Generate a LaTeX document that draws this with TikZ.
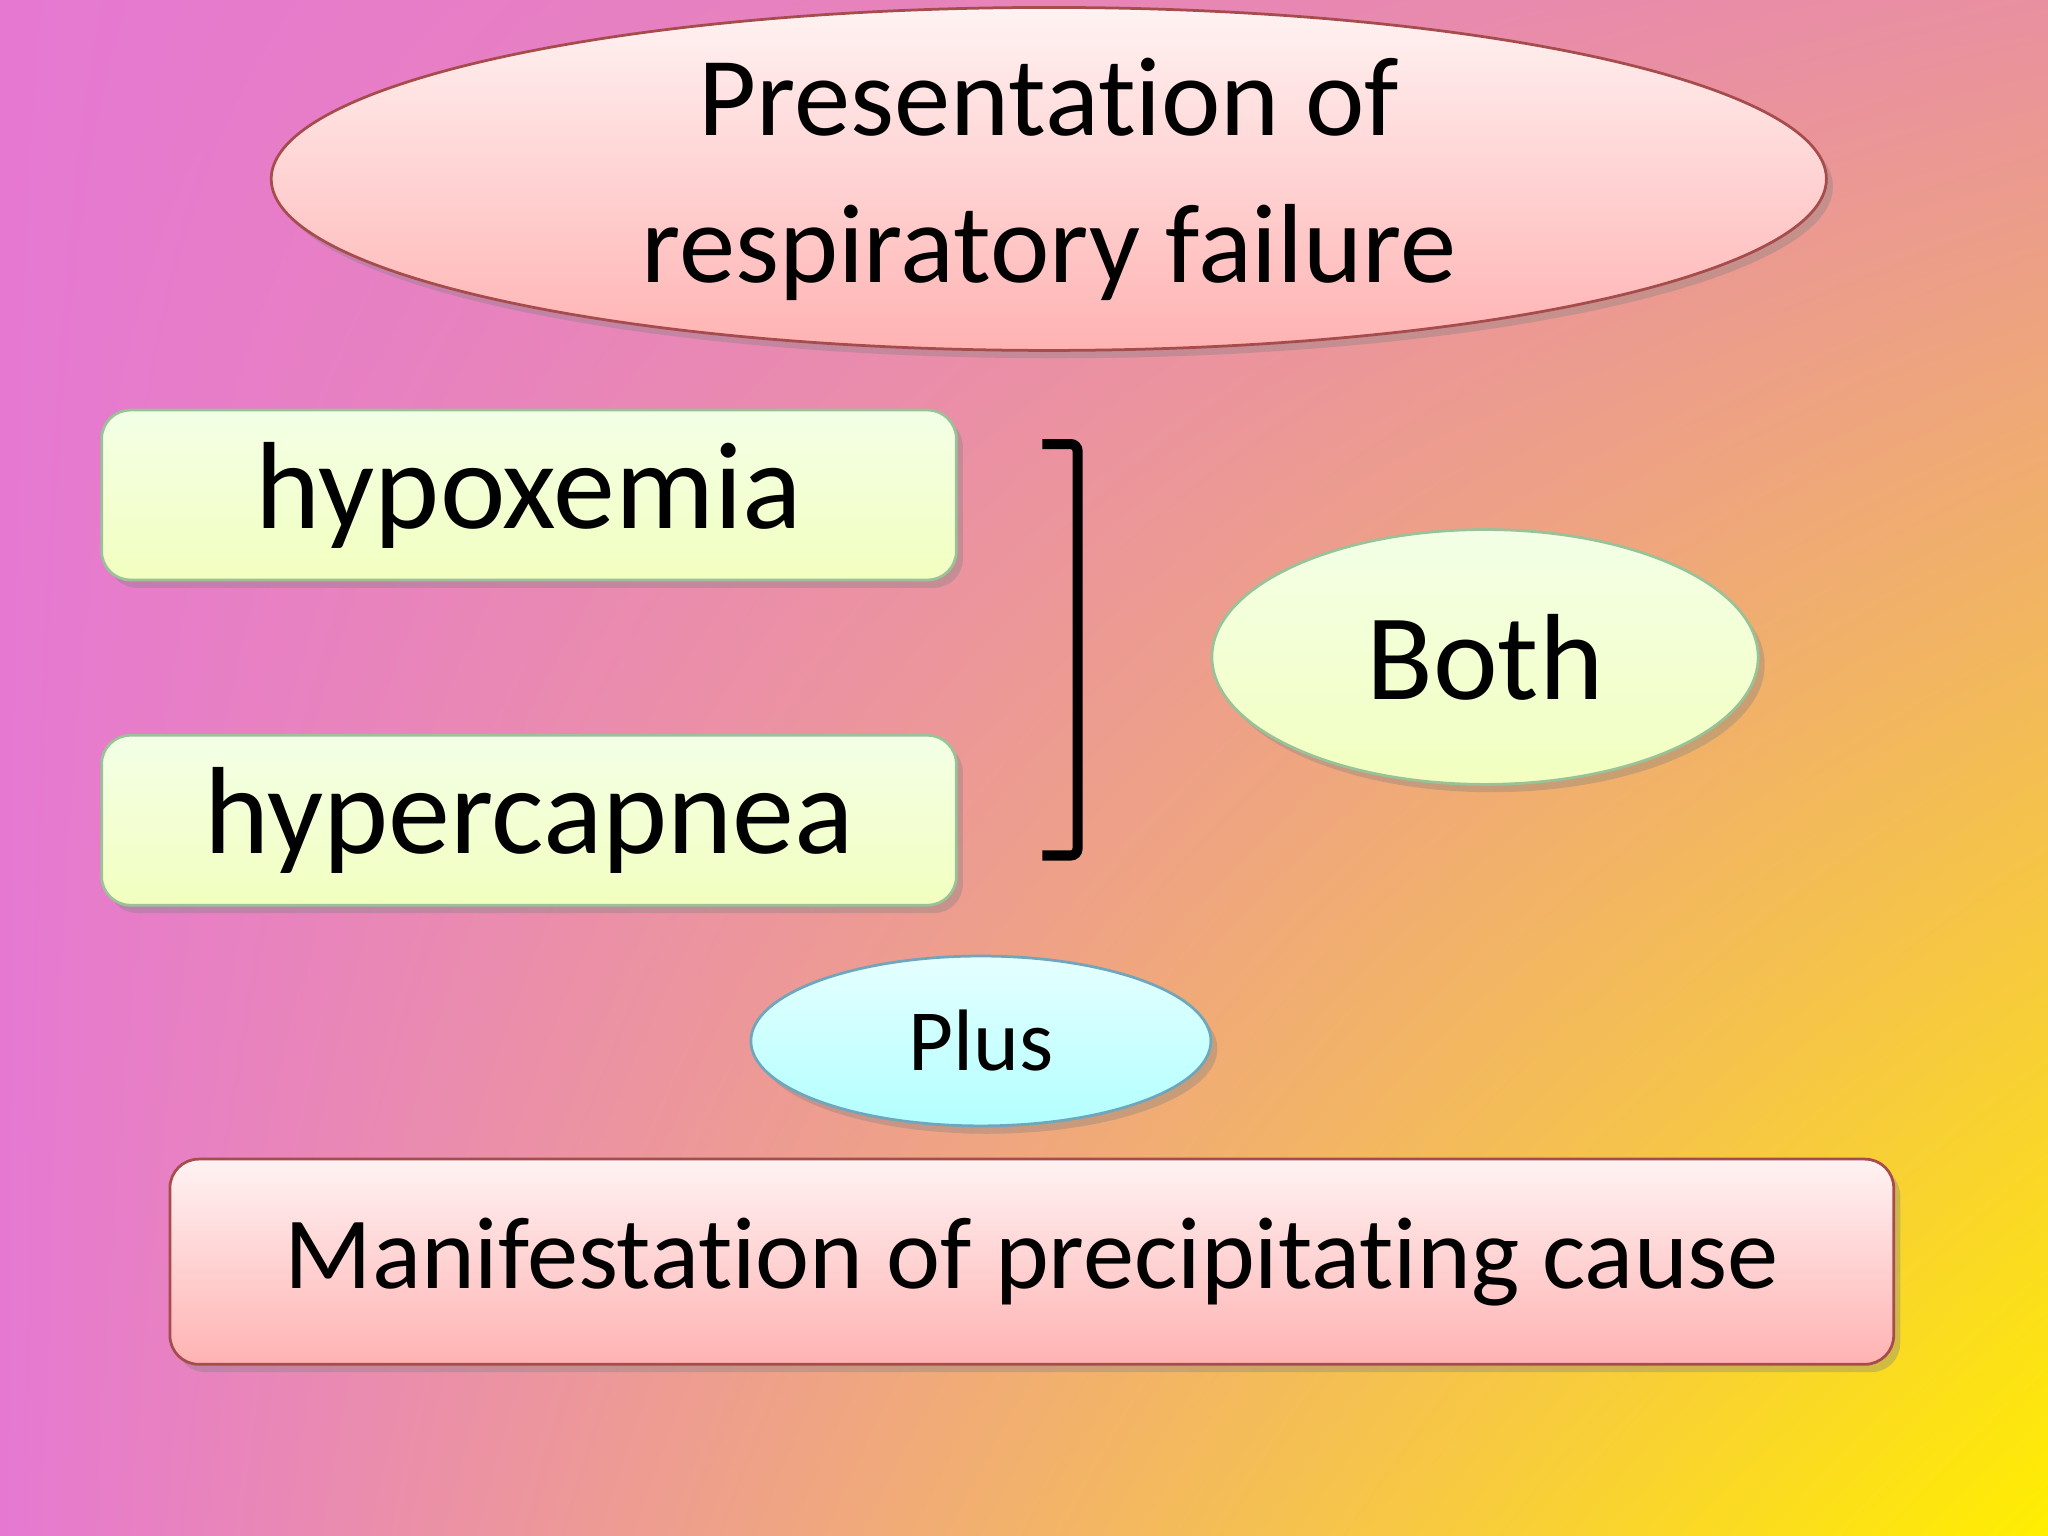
\documentclass[tikz,border=0pt]{standalone}
\usepackage{fontspec}
\setmainfont[Ligatures=CommonOff]{Carlito}
\usetikzlibrary{shapes.geometric,shadows,shadings}
\definecolor{bgpink}{HTML}{E678D2}
\definecolor{bgsal}{HTML}{E990A0}
\definecolor{bgyel}{HTML}{FFEE00}
\tikzset{
 sh/.style={drop shadow={shadow xshift=0.5mm,shadow yshift=-0.6mm,opacity=0.35}},
 pinkfill/.style={top color=red!5!white,bottom color=red!30!white,draw=red!50!black!70,line width=0.6pt},
 greenfill/.style={top color=green!5!white!95!yellow,bottom color=green!20!yellow!25!white,draw=green!40!black!40,line width=0.6pt},
 bluefill/.style={top color=cyan!10!white,bottom color=cyan!30!white,draw=cyan!60!black!70,line width=0.6pt},
 box/.style={rectangle,rounded corners=0.22cm,sh},
 ell/.style={ellipse,sh,inner sep=0pt}
}
\begin{document}
\begin{tikzpicture}[x=0.01cm,y=-0.01cm]
\useasboundingbox (0,0) rectangle (1568,1176);
\shade[upper left=bgpink,upper right=bgsal,lower left=bgpink,lower right=bgyel] (0,0) rectangle (1568,1176);
\node[ell,pinkfill,minimum width=11.9cm,minimum height=2.35cm,align=center,font=\fontsize{24.5}{32}\selectfont] (title) at (803,137) {Presentation of\\respiratory failure};
\node[box,greenfill,minimum width=6.54cm,minimum height=1.3cm,font=\fontsize{27}{32}\selectfont] (hypo) at (405,379) {hypoxemia};
\node[box,greenfill,minimum width=6.54cm,minimum height=1.3cm,font=\fontsize{27}{32}\selectfont] (hyper) at (405,628) {hypercapnea};
\coordinate (b1) at (798,340);
\coordinate (b2) at (825,340);
\coordinate (b3) at (825,655);
\coordinate (b4) at (798,655);
\draw[line width=2.2pt,rounded corners=1.5pt] (b1) -- (b2) -- (b3) -- (b4);
\node[ell,greenfill,minimum width=4.18cm,minimum height=1.95cm,font=\fontsize{26.7}{32}\selectfont] (both) at (1137,503) {Both};
\node[ell,bluefill,minimum width=3.52cm,minimum height=1.3cm,font=\fontsize{19}{23}\selectfont] (plus) at (751,797) {Plus};
\node[box,pinkfill,minimum width=13.19cm,minimum height=1.57cm,font=\fontsize{22.3}{27}\selectfont] (man) at (790,966) {Manifestation of precipitating cause};
\end{tikzpicture}
\end{document}
